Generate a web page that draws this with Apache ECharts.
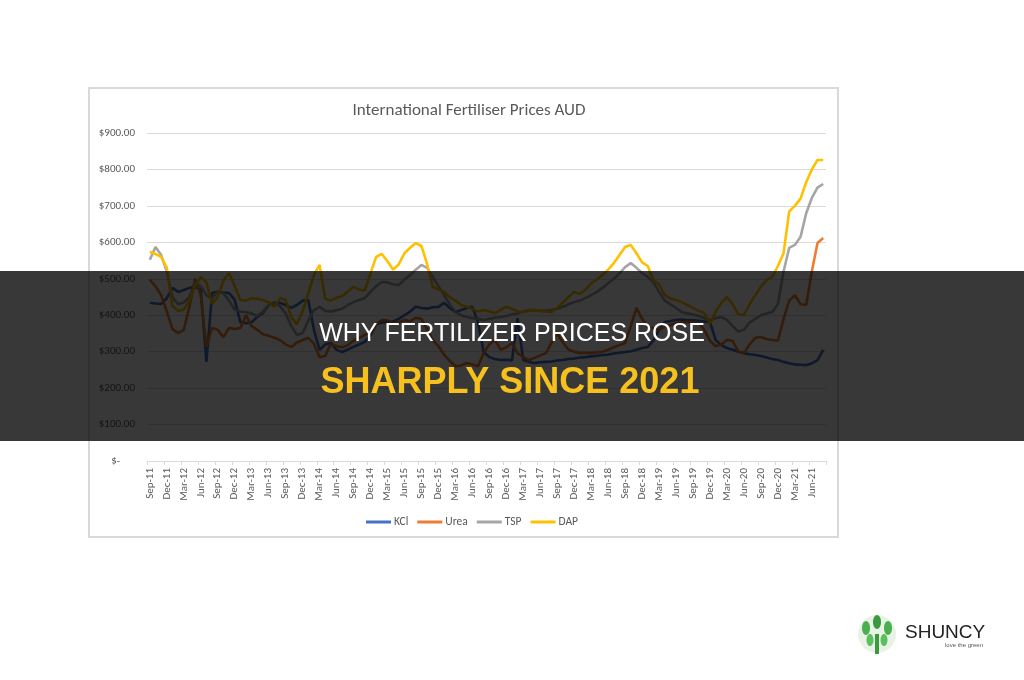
<!DOCTYPE html>
<html>
<head>
<meta charset="utf-8">
<script src="https://cdn.jsdelivr.net/npm/echarts@6/dist/echarts.min.js"></script>
<style>
  html, body { margin: 0; padding: 0; background: #fff; }
  #main { width: 1024px; height: 680px; }
</style>
</head>
<body>
<div id="main"></div>
<script>
var months = [
  'Sep-11','Oct-11','Nov-11','Dec-11','Jan-12','Feb-12','Mar-12','Apr-12','May-12','Jun-12','Jul-12','Aug-12',
  'Sep-12','Oct-12','Nov-12','Dec-12','Jan-13','Feb-13','Mar-13','Apr-13','May-13','Jun-13','Jul-13','Aug-13',
  'Sep-13','Oct-13','Nov-13','Dec-13','Jan-14','Feb-14','Mar-14','Apr-14','May-14','Jun-14','Jul-14','Aug-14',
  'Sep-14','Oct-14','Nov-14','Dec-14','Jan-15','Feb-15','Mar-15','Apr-15','May-15','Jun-15','Jul-15','Aug-15',
  'Sep-15','Oct-15','Nov-15','Dec-15','Jan-16','Feb-16','Mar-16','Apr-16','May-16','Jun-16','Jul-16','Aug-16',
  'Sep-16','Oct-16','Nov-16','Dec-16','Jan-17','Feb-17','Mar-17','Apr-17','May-17','Jun-17','Jul-17','Aug-17',
  'Sep-17','Oct-17','Nov-17','Dec-17','Jan-18','Feb-18','Mar-18','Apr-18','May-18','Jun-18','Jul-18','Aug-18',
  'Sep-18','Oct-18','Nov-18','Dec-18','Jan-19','Feb-19','Mar-19','Apr-19','May-19','Jun-19','Jul-19','Aug-19',
  'Sep-19','Oct-19','Nov-19','Dec-19','Jan-20','Feb-20','Mar-20','Apr-20','May-20','Jun-20','Jul-20','Aug-20',
  'Sep-20','Oct-20','Nov-20','Dec-20','Jan-21','Feb-21','Mar-21','Apr-21','May-21','Jun-21','Jul-21','Aug-21'
];

var kcl = [
  434, 432, 431, 447, 475, 464, 469, 475, 478, 470, 272, 461,
  464, 462, 461, 442, 381, 378, 381, 395, 406, 428, 432, 434,
  428, 420, 428, 440, 442, 360, 305, 320, 324, 305, 299, 306,
  313, 320, 327, 345, 375, 380, 381, 383, 390, 400, 410, 423,
  420, 418, 422, 423, 434, 420, 409, 414, 420, 423, 381, 299,
  285, 280, 277, 278, 276, 392, 277, 272, 269, 271, 272, 273,
  276, 277, 280, 281, 284, 285, 287, 289, 291, 292, 295, 297,
  299, 301, 305, 310, 313, 330, 360, 381, 384, 387, 388, 386,
  387, 385, 383, 381, 332, 318, 310, 305, 300, 296, 293, 291,
  288, 284, 280, 277, 272, 268, 265, 264, 263, 268, 277, 305
];

var urea = [
  497, 480, 455, 410, 362, 351, 360, 423, 500, 455, 313, 365,
  360, 340, 365, 362, 365, 400, 370, 360, 348, 344, 338, 332,
  320, 313, 325, 332, 338, 322, 285, 288, 322, 315, 312, 318,
  330, 338, 346, 352, 375, 387, 386, 375, 380, 387, 383, 393,
  390, 362, 332, 315, 292, 275, 260, 262, 269, 265, 260, 296,
  320, 332, 305, 312, 324, 296, 285, 277, 283, 290, 296, 325,
  350, 325, 305, 300, 296, 297, 296, 298, 300, 305, 312, 318,
  324, 370, 420, 390, 368, 364, 360, 368, 373, 378, 380, 382,
  380, 378, 360, 330, 315, 320, 332, 330, 300, 296, 320, 338,
  340, 335, 332, 330, 390, 440, 455, 430, 428, 520, 598, 612
];

var tsp = [
  552, 587, 565, 520, 450, 430, 435, 450, 490, 480, 455, 445,
  465, 460, 440, 415, 410, 408, 405, 398, 410, 428, 436, 425,
  405, 370, 346, 351, 385, 414, 423, 412, 410, 414, 418, 428,
  436, 442, 447, 464, 480, 491, 490, 485, 483, 498, 510, 525,
  538, 530, 505, 480, 455, 430, 409, 400, 395, 392, 390, 387,
  390, 393, 395, 398, 402, 405, 410, 414, 414, 412, 413, 414,
  418, 423, 430, 436, 440, 447, 455, 464, 475, 488, 500, 515,
  532, 543, 530, 516, 505, 490, 464, 440, 430, 420, 408, 405,
  402, 398, 392, 387, 392, 395, 387, 370, 355, 360, 380, 390,
  400, 405, 409, 430, 520, 585, 593, 615, 680, 722, 750, 760
];

var dap = [
  574, 568, 560, 530, 425, 412, 415, 440, 480, 505, 490, 430,
  450, 495, 515, 480, 442, 440, 447, 445, 442, 435, 423, 447,
  442, 395, 375, 410, 460, 510, 538, 445, 440, 448, 452, 465,
  478, 470, 468, 515, 560, 568, 548, 525, 540, 570, 585, 598,
  590, 540, 478, 470, 464, 450, 440, 428, 423, 418, 410, 414,
  410, 406, 415, 423, 418, 410, 409, 412, 414, 412, 410, 409,
  420, 434, 450, 464, 458, 470, 488, 498, 510, 525, 543, 565,
  587, 593, 570, 545, 535, 495, 485, 455, 446, 442, 436, 428,
  420, 412, 406, 375, 410, 434, 450, 430, 402, 401, 430, 455,
  478, 497, 505, 535, 570, 685, 700, 720, 765, 800, 826, 826
];

var seriesNames = ['KCl', 'Urea', 'TSP', 'DAP'];
var seriesColors = ['#4472C4', '#ED7D31', '#A5A5A5', '#FFC000'];
var seriesData = [kcl, urea, tsp, dap];

var font = 'Carlito, "Open Sans", "Noto Sans", sans-serif';

var myChart = echarts.init(document.getElementById('main'));

var series = [];
for (var s = 0; s < seriesNames.length; s++) {
  series.push({
    name: seriesNames[s],
    type: 'line',
    data: seriesData[s],
    showSymbol: false,
    symbol: 'none',
    lineStyle: { width: 2.6, color: seriesColors[s] },
    itemStyle: { color: seriesColors[s] },
    z: 2 + s
  });
}

var option = {
  animation: false,
  backgroundColor: '#ffffff',
  title: {
    text: 'International Fertiliser Prices AUD',
    left: 464,
    textAlign: 'center',
    top: 97,
    textStyle: { color: '#595959', fontSize: 17, fontWeight: 'normal', fontFamily: font }
  },
  legend: {
    data: seriesNames,
    left: 361,
    top: 511,
    icon: 'rect',
    itemWidth: 25,
    itemHeight: 3,
    itemGap: 9,
    textStyle: { color: '#595959', fontSize: 11.5, fontFamily: font, padding: [0, 0, 0, -2] }
  },
  grid: {
    left: 147,
    right: 198,
    top: 133,
    bottom: 219
  },
  xAxis: {
    type: 'category',
    boundaryGap: true,
    data: months,
    axisLine: { lineStyle: { color: '#d9d9d9' } },
    axisTick: { show: true, interval: 2, length: 4, lineStyle: { color: '#d9d9d9' } },
    axisLabel: {
      interval: 2,
      rotate: 90,
      margin: 7,
      color: '#595959',
      fontSize: 11,
      fontFamily: font
    }
  },
  yAxis: {
    type: 'value',
    min: 0,
    max: 900,
    interval: 100,
    axisLine: { show: false },
    axisTick: { show: false },
    splitLine: { lineStyle: { color: '#d9d9d9' } },
    axisLabel: {
      margin: 12,
      color: '#595959',
      fontSize: 11,
      fontFamily: font,
      formatter: function (v) {
        return v === 0 ? '$-      ' : '$' + v.toFixed(2);
      }
    }
  },
  graphic: [
    {
      type: 'rect',
      z: -1,
      silent: true,
      shape: { x: 89, y: 88, width: 749, height: 449 },
      style: { fill: 'none', stroke: '#d9d9d9', lineWidth: 2 }
    },
    {
      type: 'rect',
      z: 100,
      silent: true,
      shape: { x: 0, y: 271, width: 1024, height: 170 },
      style: { fill: 'rgba(0,0,0,0.78)' }
    },
    {
      type: 'text',
      z: 101,
      x: 512,
      y: 334,
      style: {
        text: 'WHY FERTILIZER PRICES ROSE',
        fill: '#ffffff',
        font: '25px "Liberation Sans", Arial, sans-serif',
        align: 'center',
        verticalAlign: 'middle'
      }
    },
    {
      type: 'text',
      z: 101,
      x: 510,
      y: 383,
      style: {
        text: 'SHARPLY SINCE 2021',
        fill: '#F6C11E',
        font: 'bold 36px "Liberation Sans", Arial, sans-serif',
        align: 'center',
        verticalAlign: 'middle'
      }
    },
    {
      type: 'group',
      z: 101,
      children: [
        { type: 'circle', shape: { cx: 877, cy: 634, r: 19 }, style: { fill: '#e8f3e6' } },
        { type: 'rect', shape: { x: 875, y: 634, width: 4, height: 20 }, style: { fill: '#3a9a40' } },
        { type: 'ellipse', shape: { cx: 866, cy: 628, rx: 4, ry: 7 }, style: { fill: '#48b04e' } },
        { type: 'ellipse', shape: { cx: 877, cy: 622, rx: 4, ry: 7 }, style: { fill: '#3a9a40' } },
        { type: 'ellipse', shape: { cx: 888, cy: 628, rx: 4, ry: 7 }, style: { fill: '#48b04e' } },
        { type: 'ellipse', shape: { cx: 870, cy: 640, rx: 3.5, ry: 6 }, style: { fill: '#5cbf5f' } },
        { type: 'ellipse', shape: { cx: 884, cy: 640, rx: 3.5, ry: 6 }, style: { fill: '#5cbf5f' } },
        {
          type: 'text', x: 905, y: 633,
          style: { text: 'SHUNCY', fill: '#222222', font: '19px "Liberation Sans", Arial, sans-serif', verticalAlign: 'middle' }
        },
        {
          type: 'text', x: 945, y: 645,
          style: { text: 'love the green', fill: '#555555', font: '6px "Liberation Sans", Arial, sans-serif', verticalAlign: 'middle' }
        }
      ]
    }
  ],
  series: series
};

myChart.setOption(option);
</script>
</body>
</html>
